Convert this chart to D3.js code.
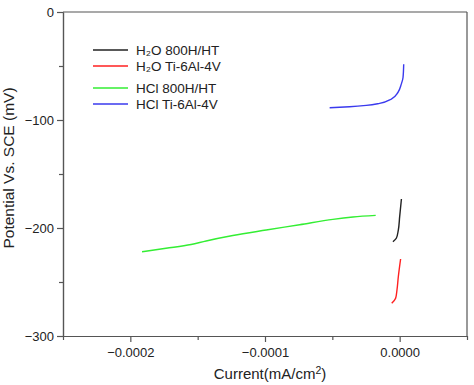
<!DOCTYPE html>
<html>
<head>
<meta charset="utf-8">
<script src="https://cdn.jsdelivr.net/npm/d3@7"></script>
<style>
  body { margin: 0; background: #fff; }
  text { font-family: Arial, "Liberation Sans", sans-serif; fill: #222; }
</style>
</head>
<body>
<svg id="chart" width="474" height="385"></svg>
<script>
// series names + colours for the legend
var seriesNames = ["H\u2082O 800H/HT", "H\u2082O Ti-6Al-4V", "HCl 800H/HT", "HCl Ti-6Al-4V"];
var seriesColors = ["#222222", "#ff2020", "#33ee33", "#3a3aee"];

// current (mA/cm2) and potential (mV)
var h2o800Current = [-0.0000050, -0.0000025, -0.0000010, 0.0000000, 0.0000013];
var h2o800Potential = [-212.7, -209.5, -201.9, -189.5, -173.1];

var h2oTiCurrent = [-0.0000059, -0.0000030, -0.0000020, -0.0000010, 0.0000007];
var h2oTiPotential = [-269.7, -265.1, -257.4, -245.1, -228.7];

var hcl800Current = [-0.0001913, -0.0001735, -0.0001549, -0.0001437, -0.0001239, -0.0000991, -0.0000743, -0.0000496, -0.0000347, -0.0000178];
var hcl800Potential = [-222.0, -218.8, -215.3, -212.0, -207.0, -201.9, -197.0, -192.0, -189.8, -188.3];

var hclTiCurrent = [-0.0000520, -0.0000372, -0.0000248, -0.0000149, -0.0000062, -0.0000013, 0.0000012, 0.0000025, 0.0000030];
var hclTiPotential = [-88.6, -87.7, -86.5, -84.6, -80.6, -74.5, -66.8, -60.6, -48.3];

var xTicks = [-0.0002, -0.0001, 0.0000];
var xMinorTicks = [-0.00025, -0.00015, -0.00005, 0.00005];
var yTicks = [0, -100, -200, -300];
var yMinorTicks = [-50, -150, -250];

var svg = d3.select("#chart"),
    margin = {top: 12, right: 7, bottom: 49, left: 63},
    width = 474 - margin.left - margin.right,
    height = 385 - margin.top - margin.bottom;

var x = d3.scaleLinear().domain([-0.00025, 0.00005]).range([0, width]);
var y = d3.scaleLinear().domain([-300, 0]).range([height, 0]);

var g = svg.append("g")
    .attr("transform", "translate(" + margin.left + "," + margin.top + ")");

function zip(xs, ys) {
  return xs.map(function(v, i) { return [v, ys[i]]; });
}

var series = [
  zip(h2o800Current, h2o800Potential),
  zip(h2oTiCurrent, h2oTiPotential),
  zip(hcl800Current, hcl800Potential),
  zip(hclTiCurrent, hclTiPotential)
];

var line = d3.line()
    .x(function(d) { return x(d[0]); })
    .y(function(d) { return y(d[1]); })
    .curve(d3.curveMonotoneX);

var lineY = d3.line()
    .x(function(d) { return x(d[0]); })
    .y(function(d) { return y(d[1]); })
    .curve(d3.curveMonotoneY);

g.selectAll(".series")
    .data(series)
    .enter().append("path")
      .attr("class", "series")
      .attr("fill", "none")
      .attr("stroke", function(d, i) { return seriesColors[i]; })
      .attr("stroke-width", 1.4)
      .attr("d", function(d, i) { return i == 2 ? line(d) : lineY(d); });

// axes: major ticks outward, minor shorter
var xAxis = g.append("g")
    .attr("transform", "translate(0," + height + ")")
    .call(d3.axisBottom(x).tickValues(xTicks).tickSize(6).tickSizeOuter(0)
      .tickFormat(d3.format(".4f")));
xAxis.selectAll(".tick").filter(function(d) { return d === 0; }).select("text").text("0.0000");
g.append("g")
    .attr("transform", "translate(0," + height + ")")
    .call(d3.axisBottom(x).tickValues(xMinorTicks).tickSize(4).tickSizeOuter(0).tickFormat(""));

var yAxis = g.append("g")
    .call(d3.axisLeft(y).tickValues(yTicks).tickSize(6).tickSizeOuter(0));
g.append("g")
    .call(d3.axisLeft(y).tickValues(yMinorTicks).tickSize(4).tickSizeOuter(0).tickFormat(""));

g.selectAll(".domain").attr("stroke", "#555").attr("stroke-width", 1.2);
g.selectAll(".tick line").attr("stroke", "#555").attr("stroke-width", 1.2);
g.selectAll(".tick text").style("font-size", "13px").attr("fill", "#222");
xAxis.selectAll(".tick text").attr("dy", "0.95em");
yAxis.selectAll(".tick text").attr("x", -9);

// box top / right
g.append("line").attr("x1", 0).attr("x2", width).attr("y1", 0).attr("y2", 0)
    .attr("stroke", "#555").attr("stroke-width", 1.2);
g.append("line").attr("x1", width).attr("x2", width).attr("y1", 0).attr("y2", height)
    .attr("stroke", "#555").attr("stroke-width", 1.2);

// legend
var legendY = [50, 66, 88, 104];
var legend = svg.append("g").selectAll("g")
    .data(seriesNames)
    .enter().append("g")
      .attr("transform", function(d, i) { return "translate(93," + legendY[i] + ")"; });
legend.append("line")
    .attr("x1", 0).attr("x2", 35)
    .attr("stroke", function(d, i) { return seriesColors[i]; })
    .attr("stroke-width", 1.4);
legend.append("text")
    .attr("x", 43).attr("dy", "0.35em")
    .style("font-size", "13.5px")
    .text(function(d) { return d; });

// axis titles
svg.append("text")
    .attr("transform", "translate(14,168) rotate(-90)")
    .attr("text-anchor", "middle")
    .style("font-size", "15.5px")
    .text("Potential Vs. SCE (mV)");

var xt = svg.append("text")
    .attr("x", 270)
    .attr("y", 379)
    .attr("text-anchor", "middle")
    .style("font-size", "15px");
xt.append("tspan").text("Current(mA/cm");
xt.append("tspan").attr("dy", -5).style("font-size", "10.5px").text("2");
xt.append("tspan").attr("dy", 5).text(")");
</script>
</body>
</html>
